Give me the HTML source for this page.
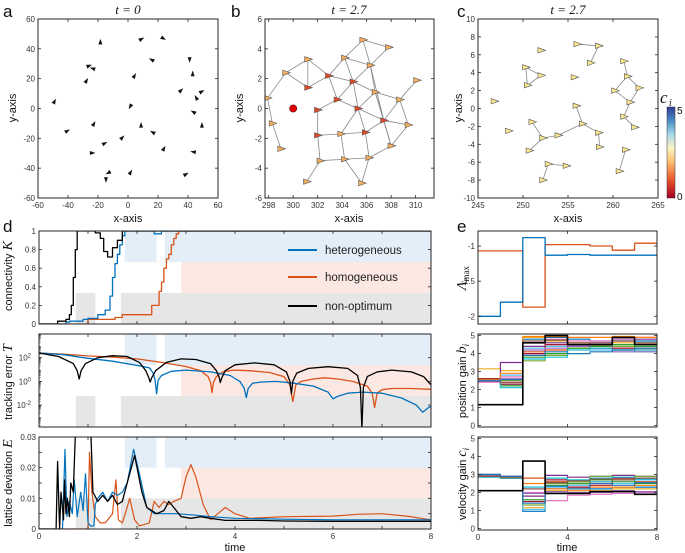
<!DOCTYPE html>
<html><head><meta charset="utf-8">
<style>
html,body{margin:0;padding:0;background:#fff;}
svg{display:block;font-family:"Liberation Sans",sans-serif;}
</style></head>
<body>
<svg id="fig" width="685" height="553" viewBox="0 0 685 553" xmlns="http://www.w3.org/2000/svg">
<defs>
<linearGradient id="cbar" x1="0" y1="1" x2="0" y2="0">
<stop offset="0" stop-color="#a50026"/><stop offset="0.2" stop-color="#e8552c"/>
<stop offset="0.4" stop-color="#fdc273"/><stop offset="0.55" stop-color="#fbf3c4"/>
<stop offset="0.7" stop-color="#a6d8ea"/><stop offset="0.85" stop-color="#4a8cc4"/>
<stop offset="1" stop-color="#2a3b93"/></linearGradient>
</defs>
</svg>
<script>
// ---------- DATA ----------
const aX=[-18.4,8.7,23.3,16,41.1,-26.2,-23.3,4.2,43.1,-27.8,35.1,48.9,-49.1,45.6,1.6,43.8,-22.9,8.7,49.3,-40.7,16.7,-4,-15.8,-24,23.8,43.8,-12.9,1.6,-14.7,38.4];
const aY=[44.4,46.4,47.1,32.5,33,28.5,26.7,21.7,23.1,18.4,11.9,11.2,4.5,7,1.6,-2.5,-10.5,-11.4,-11.4,-15.2,-16.1,-19.7,-23.5,-29.8,-27.1,-29.1,-43,-43,-47.5,-44.2];
const aAng=[90,30,-30,150,-90,20,160,60,90,60,45,30,60,120,-120,150,60,90,90,30,150,45,30,0,60,170,-150,60,-90,30];
const bX=[305.7,307.8,304.2,306.3,301.2,299.4,302.9,304.9,310.1,301.2,306.7,297.9,308.7,303.6,302.0,305.3,307.4,298.3,309.4,302.0,303.9,305.9,308.0,299.0,302.2,304.2,306.2,301.1,305.6];
const bY=[4.6,4.1,3.4,2.9,3.3,2.4,2.2,1.8,1.9,1.4,1.1,0.7,0.6,0.6,-0.1,0,-0.8,-1.0,-1.1,-1.8,-1.7,-1.6,-2.5,-2.7,-3.5,-3.4,-3.3,-4.9,-5.0];
const bC=[2.2,2.2,2.2,2.2,2.2,2.2,1.2,1.2,2.2,1.2,2.2,2.2,2.2,1.2,1.2,1.2,1.2,2.2,2.2,1.2,2.2,1.2,2.2,2.2,2.2,2.2,2.2,2.2,2.2];
const bE=[[1,2],[1,3],[1,4],[2,4],[3,4],[3,7],[3,8],[4,8],[4,11],[4,17],[5,6],[5,7],[5,10],[6,10],[6,12],[12,18],[18,24],[7,8],[7,10],[7,14],[8,11],[8,14],[8,16],[11,13],[11,16],[11,17],[13,9],[13,19],[13,17],[14,15],[14,16],[15,20],[16,17],[16,21],[16,22],[17,22],[17,19],[17,23],[19,23],[20,21],[20,25],[21,22],[21,26],[22,27],[23,27],[25,26],[25,28],[26,27],[26,29],[27,29],[11,23]];
const cX=[256.0,258.4,252.0,257.5,261.2,250.3,252.0,261.6,255.7,250.5,262.9,260.2,261.9,246.8,255.9,261.2,251.0,256.6,262.4,248.4,258.4,253.9,252.2,258.5,250.7,261.4,252.8,254.8,260.7,252.2];
const cY=[7.2,7.0,6.5,5.1,5.3,4.6,3.7,3.6,3.5,2.6,2.3,2.0,0.7,0.8,0.3,-0.9,-1.5,-1.7,-2.1,-2.5,-2.7,-3.0,-3.3,-4.3,-4.7,-4.6,-6.2,-6.4,-7.0,-8.0];
const cE=[[0,1],[1,3],[5,6],[5,9],[9,6],[4,7],[7,11],[7,10],[10,12],[11,12],[12,15],[15,18],[16,22],[22,21],[24,22],[21,17],[14,17],[17,20],[20,23],[25,28],[26,27],[26,29]];
// connectivity
const blueKT=[0,0.55,0.62,0.9,1.0,1.2,1.35,1.45,1.5,1.55,1.6,1.65,1.7,1.75,2.35,2.5,8];
const blueK=[0,0.02,0.03,0.05,0.06,0.1,0.15,0.3,0.5,0.65,0.75,0.85,0.95,1,0.97,1,1];
const orangeKT=[0,1.0,1.55,1.7,2.3,2.45,2.5,2.55,2.6,2.65,2.7,2.75,2.8,2.85,8];
const orangeK=[0,0.05,0.07,0.1,0.2,0.35,0.45,0.6,0.7,0.75,0.85,0.92,0.97,1,1];
const blackKT=[0,0.38,0.55,0.62,0.66,0.7,0.74,0.78,1.15,1.25,1.32,1.4,1.5,1.6,1.7,8];
const blackK=[0,0.03,0.05,0.1,0.2,0.5,0.8,1,0.98,0.92,0.78,0.72,0.82,0.9,1,1];
// tracking error (log10)
const blackTT=[0,0.4,0.7,0.78,0.82,0.86,0.95,1.2,1.5,1.8,2.05,2.18,2.24,2.27,2.3,2.38,2.6,2.9,3.2,3.5,3.62,3.68,3.7,3.73,3.8,4.0,4.4,4.8,5.05,5.12,5.15,5.18,5.26,5.5,5.9,6.3,6.5,6.56,6.59,6.62,6.7,6.9,7.2,7.6,7.85,8];
const blackTV=[2.4,2.1,1.5,0.9,0.2,0.9,1.5,2.0,2.17,2.1,1.6,0.9,0.3,-0.05,0.3,0.9,1.6,1.9,1.85,1.5,0.9,0.3,-0.1,0.3,0.9,1.4,1.56,1.4,0.8,0.0,-1.05,0.0,0.7,1.1,1.24,1.1,0.5,-0.5,-4,-0.5,0.4,0.8,0.95,0.8,0.4,-0.3];
const blueTT=[0,0.5,1.0,1.5,2.0,2.25,2.33,2.37,2.4,2.43,2.5,2.7,3.0,3.5,3.9,4.1,4.19,4.23,4.27,4.36,4.55,4.84,5.2,5.6,5.9,6.0,6.1,6.3,6.6,7.0,7.4,7.7,7.83,7.95,8];
const blueTV=[2.4,2.25,1.95,1.7,1.35,1.15,0.7,0.1,-1.05,0.1,0.5,0.85,0.95,0.8,0.5,0.0,-0.6,-1.37,-0.6,-0.15,-0.05,0.0,-0.15,-0.4,-0.9,-1.47,-1.25,-1.0,-0.9,-1.0,-1.4,-2.0,-2.6,-2.2,-2.1];
const orangeTT=[0,0.5,1,1.5,2,2.5,3,3.3,3.45,3.5,3.53,3.56,3.62,3.75,3.96,4.3,4.7,5.0,5.12,5.18,5.24,5.35,5.6,5.83,6.1,6.4,6.7,6.8,6.85,6.9,7.0,7.2,7.6,8];
const orangeTV=[2.4,2.3,2.15,2.05,1.9,1.6,1.26,0.9,0.4,-0.1,-0.95,-0.1,0.4,0.8,0.95,0.9,0.75,0.4,-0.3,-1.7,-0.3,0.0,0.2,0.3,0.2,0.0,-0.4,-1.0,-2.2,-1.0,-0.7,-0.6,-0.6,-0.67];
// lattice deviation
const blackLT=[0,0.35,0.38,0.42,0.45,0.5,0.52,0.55,0.58,0.62,0.65,0.7,0.75,1.05,1.1,1.2,1.3,1.4,1.5,1.6,1.7,1.8,1.95,2.1,2.2,2.4,2.55,2.65,2.75,2.9,3.1,3.3,3.5,3.8,4.5,5,6,8];
const blackLV=[0,0,0.022,0,0.012,0.003,0.016,0.005,0.01,0.004,0.015,0.012,0.035,0.035,0.012,0.009,0.011,0.009,0.011,0.008,0.009,0.015,0.024,0.012,0.007,0.005,0.006,0.009,0.007,0.004,0.0035,0.004,0.0035,0.0028,0.0028,0.0026,0.0025,0.0025];
const blueLT=[0,0.48,0.53,0.57,0.62,0.68,0.72,0.78,0.85,0.9,0.95,1.0,1.05,1.12,1.15,1.2,1.3,1.4,1.5,1.6,1.7,1.8,1.93,2.05,2.2,2.35,2.5,2.8,3.2,3.5,4,5,6,8];
const blueLV=[0,0,0.026,0.004,0.009,0.005,0.016,0.004,0.012,0.006,0.018,0.002,0.001,0.001,0.008,0.01,0.012,0.009,0.012,0.011,0.012,0.015,0.026,0.018,0.007,0.005,0.005,0.005,0.0045,0.004,0.0035,0.0032,0.003,0.003];
const orangeLT=[0,1.0,1.03,1.08,1.15,1.25,1.35,1.5,1.57,1.62,1.7,1.78,1.85,1.95,2.05,2.25,2.35,2.45,2.55,2.65,2.75,2.9,3.0,3.1,3.2,3.35,3.5,3.65,3.8,4.0,4.3,5,6,6.5,7,7.5,8];
const orangeLV=[0,0,0.025,0.012,0.004,0.002,0.002,0.005,0.016,0.003,0.002,0.006,0.01,0.003,0.001,0.002,0.009,0.007,0.009,0.008,0.009,0.01,0.017,0.021,0.017,0.008,0.003,0.005,0.007,0.005,0.0035,0.004,0.0042,0.0048,0.005,0.0042,0.003];
// panel e
const lamBlue=[-2,-1.8,-0.88,-1.13,-1.12,-1.13,-1.13,-1.13];
const lamOrange=[-1.07,-1.07,-1.87,-0.98,-0.98,-1.0,-1.06,-0.96];
const posBlack=[1.15,1.15,4.6,5.0,4.5,4.5,4.9,4.5];
const posAgents=[
[2.5,2.3,4.8,4.9,4.8,4.7,4.8,4.7],[2.6,2.4,4.1,4.2,4.3,4.4,4.3,4.2],[3.15,3.05,4.9,4.7,4.6,4.5,4.6,4.6],
[2.5,3.5,4.4,4.6,4.5,4.6,4.7,4.8],[2.45,2.5,3.6,3.9,4.3,4.3,4.4,4.3],[2.45,2.8,4.3,4.4,4.5,4.2,4.2,4.1],
[2.6,2.3,4.0,4.5,4.4,4.3,4.3,4.3],[2.5,2.2,3.8,4.0,4.3,4.4,4.5,4.4],[2.4,2.7,4.6,4.8,4.7,4.7,4.8,4.9],
[2.5,2.1,3.7,3.8,4.2,4.3,4.2,4.2],[2.55,2.9,4.95,4.95,4.9,4.9,4.95,4.9],[2.45,2.6,4.2,4.3,4.4,4.5,4.1,4.1],
[2.5,2.4,4.7,4.75,4.6,4.6,4.7,4.6],[2.5,2.55,3.9,4.1,4.0,4.1,4.2,4.3]];
const velBlack=[2.1,2.1,3.75,1.95,1.95,2.05,2.05,1.9];
const velAgents=[
[3.0,2.9,0.95,2.2,2.3,2.2,2.3,2.3],[2.95,2.85,2.8,2.6,2.5,2.6,2.7,2.6],[2.9,2.8,1.15,2.1,2.2,2.1,2.2,2.2],
[2.95,2.85,1.8,2.95,2.85,2.9,2.95,2.9],[2.85,2.8,1.3,2.5,2.6,2.9,2.8,2.9],[2.9,2.85,1.05,2.3,2.4,2.6,2.5,2.7],
[3.0,2.8,1.5,2.7,2.3,2.4,2.8,2.8],[2.9,2.85,1.6,2.4,2.5,2.7,2.6,2.5],[2.95,2.9,2.0,1.55,1.85,1.9,1.95,2.0],
[2.85,2.8,2.3,2.8,2.7,2.8,2.85,2.75],[2.9,2.85,2.5,2.2,2.1,2.3,2.3,2.4],[2.95,2.9,1.95,2.05,2.0,2.0,2.1,2.05],
[2.9,2.85,2.2,2.55,2.65,2.75,2.7,2.8],[3.0,2.9,1.4,2.35,2.2,2.5,2.4,2.55]];
const agentColors=["#0072bd","#d95319","#edb120","#7e2f8e","#77ac30","#4dbeee","#a2142f","#2ca02c","#e377c2","#17becf","#ff7f0e","#9467bd","#8c564b","#1f77b4"];

// ---------- helpers ----------
const NS="http://www.w3.org/2000/svg";
const svg=document.getElementById('fig');
function el(tag,attrs,parent,text){const e=document.createElementNS(NS,tag);for(const k in attrs)e.setAttribute(k,attrs[k]);if(text!==undefined)e.textContent=text;(parent||svg).appendChild(e);return e;}
function lin(d0,d1,r0,r1){return v=>r0+(v-d0)/(d1-d0)*(r1-r0);}
let clipId=0;
function axes(x0,y0,x1,y1,xd,yd,name){
  const g=el('g',{});
  
  
  const id='clip'+(clipId++);
  const cp=el('clipPath',{id:id},g);el('rect',{x:x0,y:y0,width:x1-x0,height:y1-y0},cp);
  const plot=el('g',{'clip-path':'url(#'+id+')'},g);
  return {g,plot,sx:lin(xd[0],xd[1],x0,x1),sy:lin(yd[0],yd[1],y1,y0),x0,y0,x1,y1};
}
function frame(A,xt,yt,xlab,ylab){
  const g=A.g;
  el('rect',{x:A.x0,y:A.y0,width:A.x1-A.x0,height:A.y1-A.y0,fill:'none',stroke:'#262626','stroke-width':1},g);
  xt.forEach(v=>{const x=A.sx(v);
    el('line',{x1:x,y1:A.y1,x2:x,y2:A.y1-3,stroke:'#262626','stroke-width':0.8},g);
    el('line',{x1:x,y1:A.y0,x2:x,y2:A.y0+3,stroke:'#262626','stroke-width':0.8},g);
    if(xlab){const t=el('text',{x:x,y:A.y1+10,'font-size':8,fill:'#333','text-anchor':'middle'},g,xlab(v));}
  });
  yt.forEach(v=>{const y=A.sy(v);
    el('line',{x1:A.x0,y1:y,x2:A.x0+3,y2:y,stroke:'#262626','stroke-width':0.8},g);
    el('line',{x1:A.x1,y1:y,x2:A.x1-3,y2:y,stroke:'#262626','stroke-width':0.8},g);
    if(ylab){const t=el('text',{x:A.x0-3,y:y+3,'font-size':8,fill:'#333','text-anchor':'end'},g);
      
      ylab(v,t);}
  });
}
function txt(s){return (v,t)=>{t.textContent=s(v);};}
function poly(A,xs,ys,color,w,name){
  const pts=xs.map((x,i)=>A.sx(x).toFixed(1)+','+A.sy(ys[i]).toFixed(1)).join(' ');
  const p=el('polyline',{points:pts,fill:'none',stroke:color,'stroke-width':w,'stroke-linejoin':'round'},A.plot);
  return p;
}
function stairs(A,xs,ys,color,w,name){
  let pts=[];
  for(let i=0;i<xs.length;i++){
    if(i>0)pts.push([xs[i],ys[i-1]]);
    pts.push([xs[i],ys[i]]);
  }
  return poly(A,pts.map(p=>p[0]),pts.map(p=>p[1]),color,w,name);
}
function stepLine(A,vals,color,w,name){
  const xs=[0],ys=[vals[0]];
  for(let i=1;i<vals.length;i++){xs.push(i,i);ys.push(vals[i-1],vals[i]);}
  xs.push(vals.length);ys.push(vals[vals.length-1]);
  return poly(A,xs,ys,color,w,name);
}
function label(x,y,s,size,name,extra){const t=el('text',Object.assign({x:x,y:y,'font-size':size,fill:'#111'},extra||{}),svg,s);return t;}
function vlabel(cx,cy,main,sym,sub,name){
  const t=el('text',{x:0,y:0,'font-size':11,fill:'#111','text-anchor':'middle',transform:'translate('+cx+','+cy+') rotate(-90)'});
  
  el('tspan',{},t,main+' ');
  el('tspan',{'font-family':'Liberation Serif,serif','font-style':'italic','font-size':14},t,sym);
  if(sub)el('tspan',{'font-family':'Liberation Serif,serif','font-style':'italic','font-size':9,dy:3},t,sub);
  return t;
}
function triangle(A,x,y,angDeg,size,fill,stroke,name){
  const cx=A.sx(x),cy=A.sy(y),a=angDeg*Math.PI/180;
  const p=[[size,0],[-size*0.7,size*0.6],[-size*0.7,-size*0.6]].map(([u,v])=>{
    return (cx+u*Math.cos(a)+v*Math.sin(a)).toFixed(1)+','+(cy-u*Math.sin(a)+v*Math.cos(a)).toFixed(1);}).join(' ');
  const t=el('polygon',{points:p,fill:fill,stroke:stroke,'stroke-width':0.6},A.plot);
  
}

// ---------- Panel a ----------
const Aa=axes(38,19,218,198,[-60,60],[-60,60],'panel-a');
frame(Aa,[-60,-40,-20,0,20,40,60],[-60,-40,-20,0,20,40,60],v=>String(v),txt(v=>String(v)));
aX.forEach((x,i)=>triangle(Aa,x,aY[i],aAng[i],2.6,'#111','#111','agent-a'));
label(128,14,'t = 0',13,'title-a',{'font-family':'Liberation Serif,serif','font-style':'italic','text-anchor':'middle'});
label(128,222,'x-axis',11,'x-axis-title-a',{'text-anchor':'middle'});
label(0,0,'y-axis',11,'y-axis-title-a',{transform:'translate(16,108) rotate(-90)','text-anchor':'middle'});
label(3,17,'a',17,'panel-label-a');

// ---------- Panel b ----------
const Ab=axes(265,19,434,198,[297.7,311.5],[-6,6],'panel-b');
frame(Ab,[298,300,302,304,306,308,310],[-6,-4,-2,0,2,4,6],v=>String(v),txt(v=>String(v)));
bE.forEach(([i,j])=>{const l=el('line',{x1:Ab.sx(bX[i-1]),y1:Ab.sy(bY[i-1]),x2:Ab.sx(bX[j-1]),y2:Ab.sy(bY[j-1]),stroke:'#888','stroke-width':0.8},Ab.plot);});
bX.forEach((x,i)=>triangle(Ab,x,bY[i],0,4.5,bC[i]<2?'#e04a26':'#f6ad5c','#555','agent-b'));
{const c=el('circle',{cx:Ab.sx(300),cy:Ab.sy(0),r:3.6,fill:'#e00000',stroke:'#600','stroke-width':0.6},Ab.plot);}
label(349,14,'t = 2.7',13,'title-b',{'font-family':'Liberation Serif,serif','font-style':'italic','text-anchor':'middle'});
label(349,222,'x-axis',11,'x-axis-title-b',{'text-anchor':'middle'});
label(0,0,'y-axis',11,'y-axis-title-b',{transform:'translate(243,108) rotate(-90)','text-anchor':'middle'});
label(231,17,'b',17,'panel-label-b');

// ---------- Panel c ----------
const Ac=axes(478,19,658,198,[245,265],[-10,10],'panel-c');
frame(Ac,[245,250,255,260,265],[-10,-8,-6,-4,-2,0,2,4,6,8,10],v=>String(v),txt(v=>String(v)));
cE.forEach(([i,j])=>{const l=el('line',{x1:Ac.sx(cX[i]),y1:Ac.sy(cY[i]),x2:Ac.sx(cX[j]),y2:Ac.sy(cY[j]),stroke:'#888','stroke-width':0.8},Ac.plot);});
cX.forEach((x,i)=>triangle(Ac,x,cY[i],0,4.5,'#f8e58f','#555','agent-c'));
label(568,14,'t = 2.7',13,'title-c',{'font-family':'Liberation Serif,serif','font-style':'italic','text-anchor':'middle'});
label(568,222,'x-axis',11,'x-axis-title-c',{'text-anchor':'middle'});
label(0,0,'y-axis',11,'y-axis-title-c',{transform:'translate(462,108) rotate(-90)','text-anchor':'middle'});
label(457,17,'c',17,'panel-label-c');
{const r=el('rect',{x:667,y:107,width:8,height:91,fill:'url(#cbar)',stroke:'#333','stroke-width':0.5});}
label(677,114,'5',10,'colorbar-max');label(677,200,'0',10,'colorbar-min');
label(660,103,'c',17,'colorbar-title',{'font-family':'Liberation Serif,serif','font-style':'italic'});
label(669,106,'i',10,'colorbar-title-sub',{'font-family':'Liberation Serif,serif','font-style':'italic'});

// ---------- Panel d ----------
const BLUE='#0072bd',ORANGE='#d95319';
function shading(A){
  const H=A.y1-A.y0,Y=f=>A.y1-f*H;
  const R=(t0,t1,f0,f1,c,n)=>{const r=el('rect',{x:A.sx(t0),y:Y(f1),width:A.sx(t1)-A.sx(t0),height:Y(f0)-Y(f1),fill:c},A.plot);};
  R(1.75,2.4,0.667,1,'#e3eef8','shade-heterogeneous');R(2.57,8,0.667,1,'#e3eef8','shade-heterogeneous');
  R(2.9,8,0.333,0.667,'#fbe8e2','shade-homogeneous');
  R(0.75,1.15,0,0.333,'#e6e6e6','shade-non-optimum');R(1.67,8,0,0.333,'#e6e6e6','shade-non-optimum');
}
const dX0=39,dX1=431;
const D1=axes(dX0,231,dX1,324,[0,8],[0,1],'connectivity-plot');
shading(D1);
stairs(D1,orangeKT,orangeK,ORANGE,1.3,'homogeneous-connectivity');
stairs(D1,blueKT,blueK,BLUE,1.3,'heterogeneous-connectivity');
stairs(D1,blackKT,blackK,'#000',1.3,'non-optimum-connectivity');
frame(D1,[0,1,2,3,4,5,6,7,8],[0,0.2,0.4,0.6,0.8,1],null,txt(v=>String(v)));
const D2=axes(dX0,334,dX1,427,[0,8],[-3.85,4],'tracking-error-plot');
shading(D2);
poly(D2,orangeTT,orangeTV,ORANGE,1.3,'homogeneous-tracking');
poly(D2,blueTT,blueTV,BLUE,1.3,'heterogeneous-tracking');
poly(D2,blackTT,blackTV,'#000',1.3,'non-optimum-tracking');
frame(D2,[0,1,2,3,4,5,6,7,8],[-2,0,2],null,(v,t)=>{t.setAttribute('x',D2.x0-8);t.textContent='10';el('tspan',{'font-size':6,dy:-3},t,String(v));});
for(let d=-4;d<4;d++)for(let k=2;k<10;k++){const y=D2.sy(d+Math.log10(k));if(y>D2.y0&&y<D2.y1){el('line',{x1:D2.x0,y1:y,x2:D2.x0+1.8,y2:y,stroke:'#262626','stroke-width':0.5},D2.g);}}
const D3=axes(dX0,437,dX1,529,[0,8],[0,0.03],'lattice-deviation-plot');
shading(D3);
poly(D3,orangeLT,orangeLV,ORANGE,1.2,'homogeneous-lattice');
poly(D3,blueLT,blueLV,BLUE,1.2,'heterogeneous-lattice');
poly(D3,blackLT,blackLV,'#000',1.3,'non-optimum-lattice');
frame(D3,[0,1,2,3,4,5,6,7,8],[0,0.005,0.01,0.015,0.02,0.025,0.03],v=>v%2===0?String(v):'',(v,t)=>{const m=Math.round(v*1000);if(m%10===0)t.textContent=m===0?'0':String(v);});
label(235,551,'time',11,'x-axis-title-d',{'text-anchor':'middle'});
vlabel(12,276,'connectivity','K','','y-axis-title-connectivity');
vlabel(12,382,'tracking error','T','','y-axis-title-tracking');
vlabel(12,483,'lattice deviation','E','','y-axis-title-lattice');
label(3,232,'d',17,'panel-label-d');
[['heterogeneous',BLUE,250],['homogeneous',ORANGE,277],['non-optimum','#000',306]].forEach(([n,c,y])=>{
  const l=el('line',{x1:288,y1:y,x2:317,y2:y,stroke:c,'stroke-width':2});
  label(325,y+4,n,11.5,'legend-entry-'+n,{fill:'#222'});
});

// ---------- Panel e ----------
const eX0=478,eX1=657;
const E1=axes(eX0,231,eX1,324,[0,8],[-2.11,-0.786],'lambda-max-plot');
stepLine(E1,lamOrange,ORANGE,1.3,'lambda-homogeneous');
stepLine(E1,lamBlue,BLUE,1.3,'lambda-heterogeneous');
frame(E1,[0,4,8],[-2,-1.5,-1],null,txt(v=>String(v)));
const E2=axes(eX0,334,eX1,427,[0,8],[-0.09,5.09],'position-gain-plot');
posAgents.forEach((a,i)=>stepLine(E2,a,agentColors[i],1.2,'position-gain-agent'));
stepLine(E2,posBlack,'#000',1.6,'position-gain-non-optimum');
frame(E2,[0,4,8],[0,1,2,3,4,5],null,txt(v=>String(v)));
const E3=axes(eX0,437,eX1,530,[0,8],[-0.09,5.09],'velocity-gain-plot');
velAgents.forEach((a,i)=>stepLine(E3,a,agentColors[i],1.2,'velocity-gain-agent'));
stepLine(E3,velBlack,'#000',1.6,'velocity-gain-non-optimum');
frame(E3,[0,4,8],[0,1,2,3,4,5],v=>String(v),txt(v=>String(v)));
label(567,551,'time',11,'x-axis-title-e',{'text-anchor':'middle'});
{const t=el('text',{x:0,y:0,'font-size':14,fill:'#111','text-anchor':'middle','font-family':'Liberation Serif,serif',transform:'translate(466,278) rotate(-90)'});
 
 el('tspan',{'font-style':'italic'},t,'Λ');el('tspan',{'font-size':9,dy:3},t,'max');}
vlabel(466,381,'position gain','b','i','y-axis-title-position-gain');
vlabel(466,484,'velocity gain','c','i','y-axis-title-velocity-gain');
label(457,232,'e',17,'panel-label-e');
</script>
</body></html>
